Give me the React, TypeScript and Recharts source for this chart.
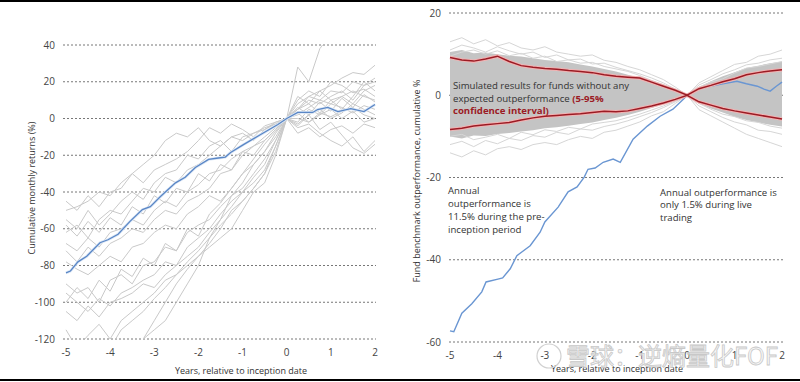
import { ComposedChart, Line, Area, XAxis, YAxis, CartesianGrid } from 'recharts'

// quarterly grid for simulated paths, years relative to inception
const quarters = [
  -5, -4.75, -4.5, -4.25, -4, -3.75, -3.5, -3.25, -3, -2.75, -2.5, -2.25, -2, -1.75, -1.5,
  -1.25, -1, -0.75, -0.5, -0.25, 0, 0.25, 0.5, 0.75, 1, 1.25, 1.5, 1.75, 2,
]
const yearTicks = [-5, -4, -3, -2, -1, 0, 1, 2]

// ---- left panel: cumulative monthly returns of funds ----
const leftTicks = [-120, -100, -80, -60, -40, -20, 0, 20, 40]
const leftGrey = [
  [-45, -50, -42, -48, -40, -38, -30, -35, -28, -25, -22, -18, -12, -5, -8, -3, -6, -10, -4, -2, 0, 5, 10, 8, 12, 15, 10, 18, 20],
  [-55, -60, -50, -58, -52, -45, -40, -44, -35, -30, -28, -20, -22, -15, -12, -18, -10, -8, -5, -3, 0, -3, 2, 5, 0, 3, 8, 5, 2],
  [-62, -58, -65, -55, -50, -52, -45, -38, -40, -32, -35, -28, -25, -20, -15, -10, -12, -8, -6, -2, 0, 28, 20, 38, 46, 50, 55, 58, 60],
  [-68, -72, -65, -70, -62, -60, -55, -58, -50, -45, -48, -40, -36, -30, -28, -22, -18, -15, -10, -5, 0, 5, 12, 15, 18, 22, 25, 24, 29],
  [-72, -78, -70, -75, -68, -65, -60, -62, -55, -50, -52, -45, -42, -38, -30, -28, -20, -15, -12, -6, 0, -5, -3, -8, -12, -15, -10, -18, -12],
  [-78, -82, -85, -80, -75, -78, -70, -68, -62, -58, -60, -52, -48, -42, -45, -38, -30, -25, -18, -8, 0, 8, 12, 10, 15, 14, 20, 18, 22],
  [-90, -95, -92, -100, -88, -85, -90, -80, -78, -70, -72, -62, -58, -55, -48, -42, -38, -30, -22, -12, 0, 3, -2, 2, 5, 0, 4, -2, 0],
  [-95, -100, -105, -98, -102, -95, -92, -88, -85, -78, -80, -70, -65, -60, -52, -45, -40, -35, -28, -15, 0, 10, 15, 12, 20, 18, 14, 16, 12],
  [-105, -110, -102, -108, -100, -98, -95, -90, -92, -85, -80, -75, -70, -62, -55, -48, -40, -32, -25, -12, 0, 2, 6, 10, 8, 12, 15, 12, 10],
  [-115, -125, -118, -112, -120, -110, -105, -100, -95, -88, -85, -78, -72, -65, -58, -52, -45, -38, -30, -18, 0, -2, 5, 2, 8, 6, 3, 7, 5],
  [-140, -135, -130, -128, -125, -115, -110, -105, -98, -92, -85, -80, -75, -70, -65, -60, -50, -40, -35, -20, 0, 5, 8, 3, 10, 12, 8, 15, 18],
  [-150, -145, -140, -135, -130, -128, -125, -120, -110, -100, -90, -82, -75, -68, -60, -50, -45, -38, -30, -15, 0, -8, -5, -10, -6, -4, -8, -3, -5],
  [-50, -48, -45, -40, -42, -35, -30, -25, -20, -12, -8, -10, -5, -12, -15, -10, -8, -12, -6, -3, 0, 12, 8, 15, 10, 5, 12, 20, 15],
  [-160, -150, -145, -140, -135, -130, -125, -120, -115, -110, -100, -90, -80, -65, -55, -42, -35, -25, -18, -10, 0, 0, -2, 3, 1, 4, 6, 2, 0],
  [-58, -64, -56, -62, -54, -58, -48, -52, -42, -46, -38, -40, -30, -34, -25, -28, -18, -20, -12, -6, 0, 6, 2, 9, 4, 11, 6, 13, 9],
  [-100, -92, -98, -88, -94, -82, -86, -76, -80, -68, -72, -60, -64, -52, -46, -38, -30, -22, -14, -7, 0, -4, 2, -6, -2, -9, -16, -19, -14],
]
const leftBlueYears = [
  -5, -4.9, -4.73, -4.53, -4.23, -4.05, -3.82, -3.55, -3.27, -3.09, -2.86, -2.52, -2.3, -2.07, -1.77,
  -1.55, -1.39, -1.27, -0.98, -0.59, -0.2, 0, 0.25, 0.59, 0.7, 0.93, 1.16, 1.45, 1.75, 2,
]
const leftBlue = [
  -84, -83, -78, -75, -67.6, -66, -63, -56, -49.6, -48, -42.5, -35, -32, -26.7, -22.3,
  -21.5, -21, -18.5, -14.2, -8.7, -3.3, 0, 3.3, 3.3, 4.9, 6, 3.8, 5.4, 3.8, 7.6,
]

// ---- right panel: benchmark outperformance vs simulated funds ----
const rightTicks = [-60, -40, -20, 0, 20]
const bandHigh = [10.5, 11, 10.2, 10.4, 10, 9.6, 9.4, 9, 8.6, 8.3, 8, 7.5, 7, 6.4, 5.8, 5, 4.2, 3.2, 2.2, 1.1, 0, 2, 3.4, 4.6, 5.6, 6.6, 7.2, 7.8, 8.2]
const bandLow = [-10, -10.5, -9.8, -9.9, -9.4, -9.2, -8.8, -8.5, -8, -7.8, -7.4, -7, -6.6, -6, -5.5, -4.8, -4, -3.1, -2.1, -1.1, 0, -2, -3.2, -4.2, -5.2, -6, -6.6, -7.2, -7.6]
const rightGrey = [
  [13, 14, 12.5, 13.5, 12, 12.8, 11.5, 11, 11.8, 10.5, 10, 9.5, 9.8, 8.5, 8, 7, 6.2, 5, 3.8, 2, 0, 3, 4.5, 6, 7.5, 8, 9.5, 10, 11],
  [11, 12.2, 11.5, 10.5, 11.8, 10.8, 10, 10.5, 9.2, 9.8, 8.6, 8.8, 7.6, 7.8, 6.8, 6, 5.2, 4.2, 3, 1.5, 0, 2.5, 3.8, 5.2, 6.2, 7.4, 7.8, 8.6, 9],
  [-14, -15, -13.5, -14.5, -13, -12.5, -13.2, -12, -11.5, -12, -10.8, -10, -10.5, -9, -8.5, -7.5, -6.5, -5, -4, -2, 0, -3.5, -5, -6.5, -8, -9.5, -10.5, -11.5, -12.5],
  [-12, -11.2, -12.5, -11, -11.8, -10.5, -11, -9.8, -10.2, -9, -9.5, -8.2, -8.5, -7.6, -7, -6.2, -5.2, -4.2, -3, -1.6, 0, -2.6, -4, -5.4, -6.5, -7.2, -8.5, -8.8, -9.5],
  [9.5, 10.5, 11, 10, 10.8, 9.6, 10.2, 9, 9.5, 8.2, 8.6, 7.8, 8, 7, 6.4, 5.8, 4.8, 3.6, 2.6, 1.2, 0, 2, 3.2, 4, 5.4, 6.6, 7, 7.6, 8.2],
  [-10, -9.5, -10.8, -10.2, -9.5, -10.5, -9, -9.6, -8.4, -8.8, -7.8, -8.2, -7, -6.6, -6.2, -5.4, -4.6, -3.6, -2.6, -1.4, 0, -2, -3.4, -4.6, -5.2, -6.2, -6.6, -7.5, -8],
]
const redUpper = [9.2, 8.6, 8.3, 8.8, 9.5, 8.2, 7.2, 6.8, 6.5, 6.3, 6, 5.8, 5.5, 5, 4.6, 4.4, 4.2, 3.2, 2.2, 1.2, 0, 1.6, 2.4, 3.3, 4, 5, 5.5, 5.9, 6.2]
const redLower = [-8.3, -8, -7.5, -7.2, -6.9, -6.6, -6, -5.5, -5.1, -4.9, -4.7, -4.5, -4.2, -3.9, -4, -3.8, -3.2, -2.6, -1.9, -1, 0, -1.6, -2.4, -3.2, -3.8, -4.3, -4.8, -5.3, -5.8]
const rightBlueYears = [
  -5, -4.92, -4.75, -4.54, -4.33, -4.24, -3.99, -3.89, -3.73, -3.59, -3.31, -3.1, -3, -2.72, -2.51,
  -2.32, -2.17, -2.09, -1.94, -1.77, -1.56, -1.41, -1.14, -0.84, -0.57, -0.3, -0.08, 0, 0.25, 0.49,
  0.75, 1.05, 1.25, 1.48, 1.62, 1.75, 1.88, 2,
]
const rightBlue = [
  -57.3, -57.5, -53, -50.7, -47.8, -45.4, -44.7, -44.4, -42.2, -39, -36.6, -33.3, -30.8, -27.2, -23.5,
  -22.3, -19.9, -18, -17.7, -16.3, -15.5, -16.3, -10.7, -7.5, -5.1, -3.4, -1, 0, 1.5, 2.2,
  2.8, 3.4, 2.8, 2.2, 1.5, 1.0, 2.2, 3.2,
]

const leftData = quarters.map((x, i) => {
  const row: Record<string, number> = { x }
  leftGrey.forEach((s, k) => (row['g' + k] = s[i]))
  return row
})
const leftBlueData = leftBlueYears.map((x, i) => ({ x, y: leftBlue[i] }))

const rightData = quarters.map((x, i) => {
  const row: Record<string, any> = { x, band: [bandLow[i], bandHigh[i]], up: redUpper[i], lo: redLower[i] }
  rightGrey.forEach((s, k) => (row['g' + k] = s[i]))
  return row
})
const rightBlueData = rightBlueYears.map((x, i) => ({ x, y: rightBlue[i] }))

const font = '"Open Sans", sans-serif'
const tick = { fill: '#444', fontSize: 10, fontFamily: font }
const txt = { fill: '#333', fontSize: 9.6, fontFamily: font }
const axisTxt = { fill: '#333', fontSize: 9, fontFamily: font }
const red = '#9b1b24'

export default function App() {
  return (
    <div style={{ position: 'absolute', left: 0, top: 0, width: 800, height: 382, background: '#fff' }}>
      <div style={{ position: 'absolute', left: 0, top: 0 }}>
        <ComposedChart width={400} height={382} data={leftData} margin={{ top: 45, right: 24, bottom: 13, left: 23 }}>
          <CartesianGrid vertical={false} stroke="#777" strokeDasharray="2 2" />
          <XAxis dataKey="x" type="number" domain={[-5, 2]} ticks={yearTicks} axisLine={false} tickLine={false}
            tick={tick} tickMargin={4} height={30} padding={{ left: 3, right: 1 }} />
          <YAxis type="number" domain={[-120, 40]} ticks={leftTicks} allowDataOverflow axisLine={false}
            tickLine={false} tick={tick} width={40} />
          {leftGrey.map((_, k) => (
            <Line key={k} dataKey={'g' + k} stroke="#c9c9c9" strokeWidth={1} dot={false} isAnimationActive={false} />
          ))}
          <Line data={leftBlueData} dataKey="y" stroke="#dbe7f6" strokeWidth={2.8} dot={false} isAnimationActive={false} />
          <Line data={leftBlueData} dataKey="y" stroke="#5a86c5" strokeWidth={1.3} dot={false} isAnimationActive={false} />
        </ComposedChart>
      </div>
      <div style={{ position: 'absolute', left: 400, top: 0 }}>
        <ComposedChart width={400} height={382} data={rightData} margin={{ top: 13, right: 17, bottom: 10, left: 19 }}>
          <CartesianGrid vertical={false} stroke="#777" strokeDasharray="2 2" />
          <XAxis dataKey="x" type="number" domain={[-5, 2]} ticks={yearTicks} axisLine={false} tickLine={false}
            tick={tick} tickMargin={4} height={30} padding={{ left: 1, right: 1 }} />
          <YAxis type="number" domain={[-60, 20]} ticks={rightTicks} allowDataOverflow axisLine={false}
            tickLine={false} tick={tick} width={30} />
          <Area dataKey="band" stroke="none" fill="#c4c4c4" fillOpacity={1} isAnimationActive={false} />
          {rightGrey.map((_, k) => (
            <Line key={k} dataKey={'g' + k} stroke="#d6d6d6" strokeWidth={1} dot={false} isAnimationActive={false} />
          ))}
          <Line data={rightBlueData} dataKey="y" stroke="#6a96d2" strokeWidth={1.4} dot={false} isAnimationActive={false} />
          <Line dataKey="up" stroke="#f2b2b2" strokeWidth={3.5} dot={false} isAnimationActive={false} />
          <Line dataKey="lo" stroke="#f2b2b2" strokeWidth={3.5} dot={false} isAnimationActive={false} />
          <Line dataKey="up" stroke={red} strokeWidth={1.5} dot={false} isAnimationActive={false} />
          <Line dataKey="lo" stroke={red} strokeWidth={1.5} dot={false} isAnimationActive={false} />
        </ComposedChart>
      </div>
      <svg width={800} height={382} style={{ position: 'absolute', left: 0, top: 0, pointerEvents: 'none' }}>
        <line x1={0} y1={1} x2={800} y2={1} stroke="#000" strokeWidth={2} />
        <line x1={0} y1={380} x2={800} y2={380} stroke="#000" strokeWidth={2} />
        <text {...axisTxt} x={33} y={188} textAnchor="middle" dominantBaseline="middle" transform="rotate(-90 33 188)">
          Cumulative monthly returns (%)
        </text>
        <text {...axisTxt} x={241} y={374} textAnchor="middle">Years, relative to inception date</text>
        <text {...axisTxt} x={418} y={181} textAnchor="middle" dominantBaseline="middle" transform="rotate(-90 418 181)">
          Fund benchmark outperformance, cumulative %
        </text>
        <text {...axisTxt} x={617} y={372} textAnchor="middle">Years, relative to inception date</text>
        <text {...txt} x={453} y={89}>Simulated results for funds without any</text>
        <text {...txt} x={453} y={102}>
          expected outperformance <tspan fill={red} fontWeight="bold">(5-95%</tspan>
        </text>
        <text {...txt} x={453} y={114} fill={red} fontWeight="bold">confidence interval)</text>
        <text {...txt} x={448} y={194}>Annual</text>
        <text {...txt} x={448} y={207}>outperformance is</text>
        <text {...txt} x={448} y={220}>11.5% during the pre-</text>
        <text {...txt} x={448} y={233}>inception period</text>
        <text {...txt} x={660} y={196}>Annual outperformance is</text>
        <text {...txt} x={660} y={208}>only 1.5% during live</text>
        <text {...txt} x={660} y={221}>trading</text>
        <circle cx={549} cy={356} r={12} fill="none" stroke="#d0d0d0" strokeWidth={1.2} />
        <text x={566} y={365} fontSize={24} fontFamily='"Noto Sans CJK SC", sans-serif' fill="#f3f3f3"
          stroke="#c8c8c8" strokeWidth={0.8} fillOpacity={0.6}>雪球：逆熵量化FOF</text>
      </svg>
    </div>
  )
}
